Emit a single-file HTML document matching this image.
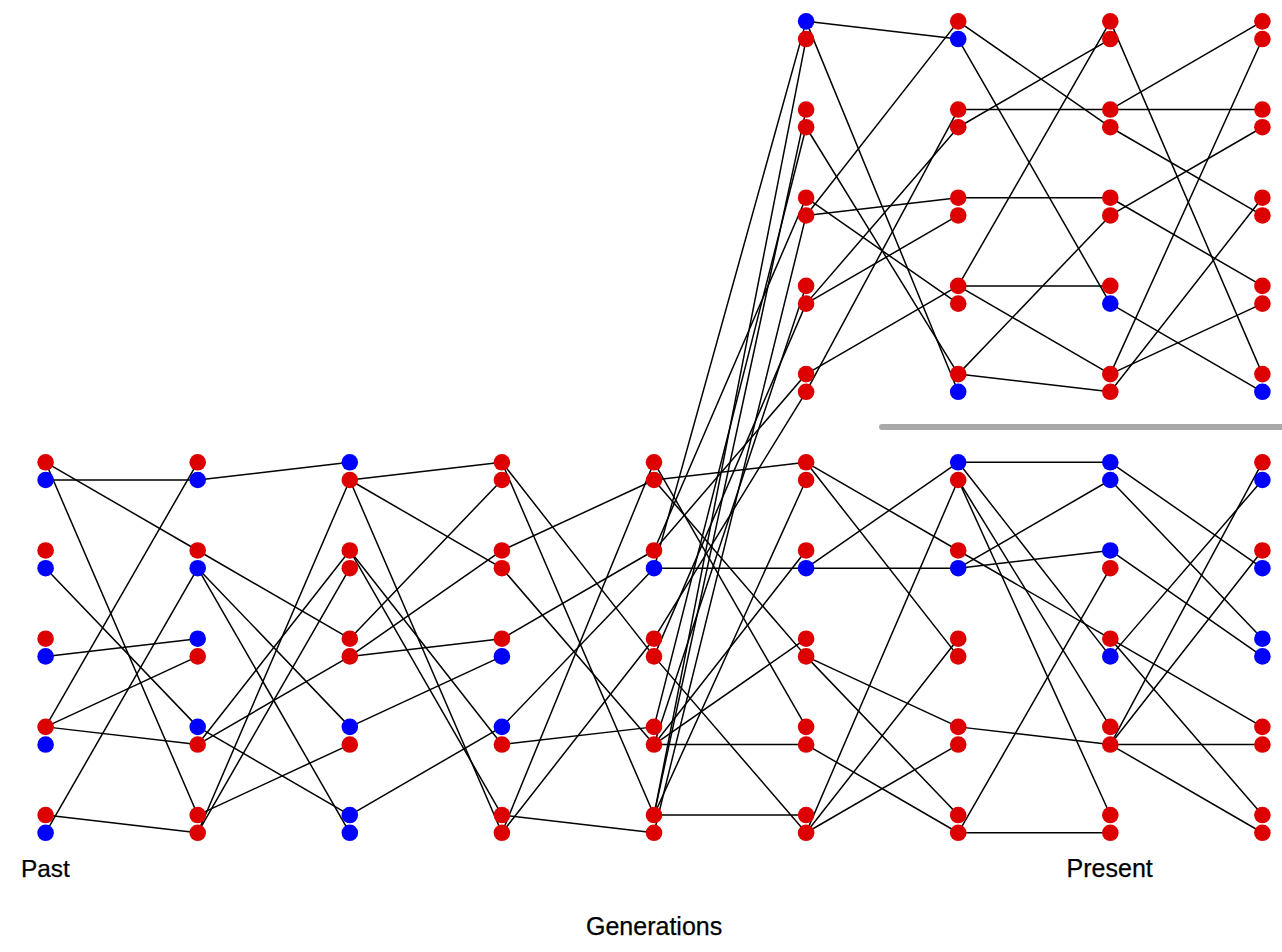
<!DOCTYPE html>
<html><head><meta charset="utf-8"><title>Generations</title>
<style>
html,body{margin:0;padding:0;background:#fff;}
body{width:1282px;height:952px;position:relative;overflow:hidden;font-family:"Liberation Sans",sans-serif;color:#000;}
.t{position:absolute;font-size:25px;line-height:25px;white-space:nowrap;-webkit-text-stroke:0.25px #000;}
</style></head><body>
<svg width="1282" height="952" viewBox="0 0 1282 952" style="position:absolute;left:0;top:0">
<g stroke="#000" stroke-width="1.5" stroke-linecap="round" fill="none">
<line x1="45.60" y1="726.87" x2="197.70" y2="462.30"/>
<line x1="45.60" y1="480.00" x2="197.70" y2="480.00"/>
<line x1="45.60" y1="462.30" x2="197.70" y2="550.49"/>
<line x1="45.60" y1="832.76" x2="197.70" y2="568.19"/>
<line x1="45.60" y1="656.38" x2="197.70" y2="638.68"/>
<line x1="45.60" y1="726.87" x2="197.70" y2="656.38"/>
<line x1="45.60" y1="568.19" x2="197.70" y2="726.87"/>
<line x1="45.60" y1="726.87" x2="197.70" y2="744.57"/>
<line x1="45.60" y1="462.30" x2="197.70" y2="815.06"/>
<line x1="45.60" y1="815.06" x2="197.70" y2="832.76"/>
<line x1="197.70" y1="480.00" x2="349.80" y2="462.30"/>
<line x1="197.70" y1="832.76" x2="349.80" y2="480.00"/>
<line x1="197.70" y1="744.57" x2="349.80" y2="550.49"/>
<line x1="197.70" y1="832.76" x2="349.80" y2="568.19"/>
<line x1="197.70" y1="550.49" x2="349.80" y2="638.68"/>
<line x1="197.70" y1="744.57" x2="349.80" y2="656.38"/>
<line x1="197.70" y1="568.19" x2="349.80" y2="726.87"/>
<line x1="197.70" y1="815.06" x2="349.80" y2="744.57"/>
<line x1="197.70" y1="726.87" x2="349.80" y2="815.06"/>
<line x1="197.70" y1="568.19" x2="349.80" y2="832.76"/>
<line x1="349.80" y1="480.00" x2="501.90" y2="462.30"/>
<line x1="349.80" y1="638.68" x2="501.90" y2="480.00"/>
<line x1="349.80" y1="656.38" x2="501.90" y2="550.49"/>
<line x1="349.80" y1="480.00" x2="501.90" y2="568.19"/>
<line x1="349.80" y1="656.38" x2="501.90" y2="638.68"/>
<line x1="349.80" y1="726.87" x2="501.90" y2="656.38"/>
<line x1="349.80" y1="815.06" x2="501.90" y2="726.87"/>
<line x1="349.80" y1="550.49" x2="501.90" y2="744.57"/>
<line x1="349.80" y1="550.49" x2="501.90" y2="815.06"/>
<line x1="349.80" y1="480.00" x2="501.90" y2="832.76"/>
<line x1="501.90" y1="832.76" x2="654.00" y2="462.30"/>
<line x1="501.90" y1="550.49" x2="654.00" y2="480.00"/>
<line x1="501.90" y1="638.68" x2="654.00" y2="550.49"/>
<line x1="501.90" y1="726.87" x2="654.00" y2="568.19"/>
<line x1="501.90" y1="832.76" x2="654.00" y2="638.68"/>
<line x1="501.90" y1="462.30" x2="654.00" y2="656.38"/>
<line x1="501.90" y1="744.57" x2="654.00" y2="726.87"/>
<line x1="501.90" y1="568.19" x2="654.00" y2="744.57"/>
<line x1="501.90" y1="462.30" x2="654.00" y2="815.06"/>
<line x1="501.90" y1="815.06" x2="654.00" y2="832.76"/>
<line x1="654.00" y1="480.00" x2="806.10" y2="462.30"/>
<line x1="654.00" y1="815.06" x2="806.10" y2="480.00"/>
<line x1="654.00" y1="744.57" x2="806.10" y2="550.49"/>
<line x1="654.00" y1="568.19" x2="806.10" y2="568.19"/>
<line x1="654.00" y1="744.57" x2="806.10" y2="638.68"/>
<line x1="654.00" y1="480.00" x2="806.10" y2="656.38"/>
<line x1="654.00" y1="462.30" x2="806.10" y2="726.87"/>
<line x1="654.00" y1="744.57" x2="806.10" y2="744.57"/>
<line x1="654.00" y1="815.06" x2="806.10" y2="815.06"/>
<line x1="654.00" y1="656.38" x2="806.10" y2="832.76"/>
<line x1="654.00" y1="568.19" x2="806.10" y2="21.35"/>
<line x1="654.00" y1="815.06" x2="806.10" y2="39.05"/>
<line x1="654.00" y1="815.06" x2="806.10" y2="109.54"/>
<line x1="654.00" y1="726.87" x2="806.10" y2="127.24"/>
<line x1="654.00" y1="550.49" x2="806.10" y2="197.73"/>
<line x1="654.00" y1="832.76" x2="806.10" y2="215.43"/>
<line x1="654.00" y1="744.57" x2="806.10" y2="285.92"/>
<line x1="654.00" y1="656.38" x2="806.10" y2="303.62"/>
<line x1="654.00" y1="550.49" x2="806.10" y2="374.11"/>
<line x1="654.00" y1="638.68" x2="806.10" y2="391.81"/>
<line x1="806.10" y1="215.43" x2="958.20" y2="21.35"/>
<line x1="806.10" y1="21.35" x2="958.20" y2="39.05"/>
<line x1="806.10" y1="391.81" x2="958.20" y2="109.54"/>
<line x1="806.10" y1="303.62" x2="958.20" y2="127.24"/>
<line x1="806.10" y1="215.43" x2="958.20" y2="197.73"/>
<line x1="806.10" y1="303.62" x2="958.20" y2="215.43"/>
<line x1="806.10" y1="374.11" x2="958.20" y2="285.92"/>
<line x1="806.10" y1="197.73" x2="958.20" y2="303.62"/>
<line x1="806.10" y1="127.24" x2="958.20" y2="374.11"/>
<line x1="806.10" y1="21.35" x2="958.20" y2="391.81"/>
<line x1="806.10" y1="568.19" x2="958.20" y2="462.30"/>
<line x1="806.10" y1="832.76" x2="958.20" y2="480.00"/>
<line x1="806.10" y1="462.30" x2="958.20" y2="550.49"/>
<line x1="806.10" y1="568.19" x2="958.20" y2="568.19"/>
<line x1="806.10" y1="832.76" x2="958.20" y2="638.68"/>
<line x1="806.10" y1="462.30" x2="958.20" y2="656.38"/>
<line x1="806.10" y1="656.38" x2="958.20" y2="726.87"/>
<line x1="806.10" y1="832.76" x2="958.20" y2="744.57"/>
<line x1="806.10" y1="656.38" x2="958.20" y2="815.06"/>
<line x1="806.10" y1="744.57" x2="958.20" y2="832.76"/>
<line x1="958.20" y1="285.92" x2="1110.30" y2="21.35"/>
<line x1="958.20" y1="127.24" x2="1110.30" y2="39.05"/>
<line x1="958.20" y1="109.54" x2="1110.30" y2="109.54"/>
<line x1="958.20" y1="21.35" x2="1110.30" y2="127.24"/>
<line x1="958.20" y1="197.73" x2="1110.30" y2="197.73"/>
<line x1="958.20" y1="374.11" x2="1110.30" y2="215.43"/>
<line x1="958.20" y1="285.92" x2="1110.30" y2="285.92"/>
<line x1="958.20" y1="39.05" x2="1110.30" y2="303.62"/>
<line x1="958.20" y1="285.92" x2="1110.30" y2="374.11"/>
<line x1="958.20" y1="374.11" x2="1110.30" y2="391.81"/>
<line x1="958.20" y1="462.30" x2="1110.30" y2="462.30"/>
<line x1="958.20" y1="568.19" x2="1110.30" y2="480.00"/>
<line x1="958.20" y1="568.19" x2="1110.30" y2="550.49"/>
<line x1="958.20" y1="832.76" x2="1110.30" y2="568.19"/>
<line x1="958.20" y1="550.49" x2="1110.30" y2="638.68"/>
<line x1="958.20" y1="462.30" x2="1110.30" y2="656.38"/>
<line x1="958.20" y1="480.00" x2="1110.30" y2="726.87"/>
<line x1="958.20" y1="726.87" x2="1110.30" y2="744.57"/>
<line x1="958.20" y1="480.00" x2="1110.30" y2="815.06"/>
<line x1="958.20" y1="832.76" x2="1110.30" y2="832.76"/>
<line x1="1110.30" y1="109.54" x2="1262.40" y2="21.35"/>
<line x1="1110.30" y1="374.11" x2="1262.40" y2="39.05"/>
<line x1="1110.30" y1="109.54" x2="1262.40" y2="109.54"/>
<line x1="1110.30" y1="215.43" x2="1262.40" y2="127.24"/>
<line x1="1110.30" y1="391.81" x2="1262.40" y2="197.73"/>
<line x1="1110.30" y1="127.24" x2="1262.40" y2="215.43"/>
<line x1="1110.30" y1="197.73" x2="1262.40" y2="285.92"/>
<line x1="1110.30" y1="374.11" x2="1262.40" y2="303.62"/>
<line x1="1110.30" y1="21.35" x2="1262.40" y2="374.11"/>
<line x1="1110.30" y1="303.62" x2="1262.40" y2="391.81"/>
<line x1="1110.30" y1="744.57" x2="1262.40" y2="462.30"/>
<line x1="1110.30" y1="656.38" x2="1262.40" y2="480.00"/>
<line x1="1110.30" y1="744.57" x2="1262.40" y2="550.49"/>
<line x1="1110.30" y1="462.30" x2="1262.40" y2="568.19"/>
<line x1="1110.30" y1="480.00" x2="1262.40" y2="638.68"/>
<line x1="1110.30" y1="550.49" x2="1262.40" y2="656.38"/>
<line x1="1110.30" y1="638.68" x2="1262.40" y2="726.87"/>
<line x1="1110.30" y1="744.57" x2="1262.40" y2="744.57"/>
<line x1="1110.30" y1="638.68" x2="1262.40" y2="815.06"/>
<line x1="1110.30" y1="744.57" x2="1262.40" y2="832.76"/>
</g>
<line x1="882" y1="427" x2="1290" y2="427" stroke="#a9a9a9" stroke-width="6" stroke-linecap="round"/>
<circle cx="45.60" cy="462.30" r="8.30" fill="#dc0000"/>
<circle cx="45.60" cy="480.00" r="8.30" fill="#0000ff"/>
<circle cx="45.60" cy="550.49" r="8.30" fill="#dc0000"/>
<circle cx="45.60" cy="568.19" r="8.30" fill="#0000ff"/>
<circle cx="45.60" cy="638.68" r="8.30" fill="#dc0000"/>
<circle cx="45.60" cy="656.38" r="8.30" fill="#0000ff"/>
<circle cx="45.60" cy="726.87" r="8.30" fill="#dc0000"/>
<circle cx="45.60" cy="744.57" r="8.30" fill="#0000ff"/>
<circle cx="45.60" cy="815.06" r="8.30" fill="#dc0000"/>
<circle cx="45.60" cy="832.76" r="8.30" fill="#0000ff"/>
<circle cx="197.70" cy="462.30" r="8.30" fill="#dc0000"/>
<circle cx="197.70" cy="480.00" r="8.30" fill="#0000ff"/>
<circle cx="197.70" cy="550.49" r="8.30" fill="#dc0000"/>
<circle cx="197.70" cy="568.19" r="8.30" fill="#0000ff"/>
<circle cx="197.70" cy="638.68" r="8.30" fill="#0000ff"/>
<circle cx="197.70" cy="656.38" r="8.30" fill="#dc0000"/>
<circle cx="197.70" cy="726.87" r="8.30" fill="#0000ff"/>
<circle cx="197.70" cy="744.57" r="8.30" fill="#dc0000"/>
<circle cx="197.70" cy="815.06" r="8.30" fill="#dc0000"/>
<circle cx="197.70" cy="832.76" r="8.30" fill="#dc0000"/>
<circle cx="349.80" cy="462.30" r="8.30" fill="#0000ff"/>
<circle cx="349.80" cy="480.00" r="8.30" fill="#dc0000"/>
<circle cx="349.80" cy="550.49" r="8.30" fill="#dc0000"/>
<circle cx="349.80" cy="568.19" r="8.30" fill="#dc0000"/>
<circle cx="349.80" cy="638.68" r="8.30" fill="#dc0000"/>
<circle cx="349.80" cy="656.38" r="8.30" fill="#dc0000"/>
<circle cx="349.80" cy="726.87" r="8.30" fill="#0000ff"/>
<circle cx="349.80" cy="744.57" r="8.30" fill="#dc0000"/>
<circle cx="349.80" cy="815.06" r="8.30" fill="#0000ff"/>
<circle cx="349.80" cy="832.76" r="8.30" fill="#0000ff"/>
<circle cx="501.90" cy="462.30" r="8.30" fill="#dc0000"/>
<circle cx="501.90" cy="480.00" r="8.30" fill="#dc0000"/>
<circle cx="501.90" cy="550.49" r="8.30" fill="#dc0000"/>
<circle cx="501.90" cy="568.19" r="8.30" fill="#dc0000"/>
<circle cx="501.90" cy="638.68" r="8.30" fill="#dc0000"/>
<circle cx="501.90" cy="656.38" r="8.30" fill="#0000ff"/>
<circle cx="501.90" cy="726.87" r="8.30" fill="#0000ff"/>
<circle cx="501.90" cy="744.57" r="8.30" fill="#dc0000"/>
<circle cx="501.90" cy="815.06" r="8.30" fill="#dc0000"/>
<circle cx="501.90" cy="832.76" r="8.30" fill="#dc0000"/>
<circle cx="654.00" cy="462.30" r="8.30" fill="#dc0000"/>
<circle cx="654.00" cy="480.00" r="8.30" fill="#dc0000"/>
<circle cx="654.00" cy="550.49" r="8.30" fill="#dc0000"/>
<circle cx="654.00" cy="568.19" r="8.30" fill="#0000ff"/>
<circle cx="654.00" cy="638.68" r="8.30" fill="#dc0000"/>
<circle cx="654.00" cy="656.38" r="8.30" fill="#dc0000"/>
<circle cx="654.00" cy="726.87" r="8.30" fill="#dc0000"/>
<circle cx="654.00" cy="744.57" r="8.30" fill="#dc0000"/>
<circle cx="654.00" cy="815.06" r="8.30" fill="#dc0000"/>
<circle cx="654.00" cy="832.76" r="8.30" fill="#dc0000"/>
<circle cx="806.10" cy="21.35" r="8.30" fill="#0000ff"/>
<circle cx="806.10" cy="39.05" r="8.30" fill="#dc0000"/>
<circle cx="806.10" cy="109.54" r="8.30" fill="#dc0000"/>
<circle cx="806.10" cy="127.24" r="8.30" fill="#dc0000"/>
<circle cx="806.10" cy="197.73" r="8.30" fill="#dc0000"/>
<circle cx="806.10" cy="215.43" r="8.30" fill="#dc0000"/>
<circle cx="806.10" cy="285.92" r="8.30" fill="#dc0000"/>
<circle cx="806.10" cy="303.62" r="8.30" fill="#dc0000"/>
<circle cx="806.10" cy="374.11" r="8.30" fill="#dc0000"/>
<circle cx="806.10" cy="391.81" r="8.30" fill="#dc0000"/>
<circle cx="806.10" cy="462.30" r="8.30" fill="#dc0000"/>
<circle cx="806.10" cy="480.00" r="8.30" fill="#dc0000"/>
<circle cx="806.10" cy="550.49" r="8.30" fill="#dc0000"/>
<circle cx="806.10" cy="568.19" r="8.30" fill="#0000ff"/>
<circle cx="806.10" cy="638.68" r="8.30" fill="#dc0000"/>
<circle cx="806.10" cy="656.38" r="8.30" fill="#dc0000"/>
<circle cx="806.10" cy="726.87" r="8.30" fill="#dc0000"/>
<circle cx="806.10" cy="744.57" r="8.30" fill="#dc0000"/>
<circle cx="806.10" cy="815.06" r="8.30" fill="#dc0000"/>
<circle cx="806.10" cy="832.76" r="8.30" fill="#dc0000"/>
<circle cx="958.20" cy="21.35" r="8.30" fill="#dc0000"/>
<circle cx="958.20" cy="39.05" r="8.30" fill="#0000ff"/>
<circle cx="958.20" cy="109.54" r="8.30" fill="#dc0000"/>
<circle cx="958.20" cy="127.24" r="8.30" fill="#dc0000"/>
<circle cx="958.20" cy="197.73" r="8.30" fill="#dc0000"/>
<circle cx="958.20" cy="215.43" r="8.30" fill="#dc0000"/>
<circle cx="958.20" cy="285.92" r="8.30" fill="#dc0000"/>
<circle cx="958.20" cy="303.62" r="8.30" fill="#dc0000"/>
<circle cx="958.20" cy="374.11" r="8.30" fill="#dc0000"/>
<circle cx="958.20" cy="391.81" r="8.30" fill="#0000ff"/>
<circle cx="958.20" cy="462.30" r="8.30" fill="#0000ff"/>
<circle cx="958.20" cy="480.00" r="8.30" fill="#dc0000"/>
<circle cx="958.20" cy="550.49" r="8.30" fill="#dc0000"/>
<circle cx="958.20" cy="568.19" r="8.30" fill="#0000ff"/>
<circle cx="958.20" cy="638.68" r="8.30" fill="#dc0000"/>
<circle cx="958.20" cy="656.38" r="8.30" fill="#dc0000"/>
<circle cx="958.20" cy="726.87" r="8.30" fill="#dc0000"/>
<circle cx="958.20" cy="744.57" r="8.30" fill="#dc0000"/>
<circle cx="958.20" cy="815.06" r="8.30" fill="#dc0000"/>
<circle cx="958.20" cy="832.76" r="8.30" fill="#dc0000"/>
<circle cx="1110.30" cy="21.35" r="8.30" fill="#dc0000"/>
<circle cx="1110.30" cy="39.05" r="8.30" fill="#dc0000"/>
<circle cx="1110.30" cy="109.54" r="8.30" fill="#dc0000"/>
<circle cx="1110.30" cy="127.24" r="8.30" fill="#dc0000"/>
<circle cx="1110.30" cy="197.73" r="8.30" fill="#dc0000"/>
<circle cx="1110.30" cy="215.43" r="8.30" fill="#dc0000"/>
<circle cx="1110.30" cy="285.92" r="8.30" fill="#dc0000"/>
<circle cx="1110.30" cy="303.62" r="8.30" fill="#0000ff"/>
<circle cx="1110.30" cy="374.11" r="8.30" fill="#dc0000"/>
<circle cx="1110.30" cy="391.81" r="8.30" fill="#dc0000"/>
<circle cx="1110.30" cy="462.30" r="8.30" fill="#0000ff"/>
<circle cx="1110.30" cy="480.00" r="8.30" fill="#0000ff"/>
<circle cx="1110.30" cy="550.49" r="8.30" fill="#0000ff"/>
<circle cx="1110.30" cy="568.19" r="8.30" fill="#dc0000"/>
<circle cx="1110.30" cy="638.68" r="8.30" fill="#dc0000"/>
<circle cx="1110.30" cy="656.38" r="8.30" fill="#0000ff"/>
<circle cx="1110.30" cy="726.87" r="8.30" fill="#dc0000"/>
<circle cx="1110.30" cy="744.57" r="8.30" fill="#dc0000"/>
<circle cx="1110.30" cy="815.06" r="8.30" fill="#dc0000"/>
<circle cx="1110.30" cy="832.76" r="8.30" fill="#dc0000"/>
<circle cx="1262.40" cy="21.35" r="8.30" fill="#dc0000"/>
<circle cx="1262.40" cy="39.05" r="8.30" fill="#dc0000"/>
<circle cx="1262.40" cy="109.54" r="8.30" fill="#dc0000"/>
<circle cx="1262.40" cy="127.24" r="8.30" fill="#dc0000"/>
<circle cx="1262.40" cy="197.73" r="8.30" fill="#dc0000"/>
<circle cx="1262.40" cy="215.43" r="8.30" fill="#dc0000"/>
<circle cx="1262.40" cy="285.92" r="8.30" fill="#dc0000"/>
<circle cx="1262.40" cy="303.62" r="8.30" fill="#dc0000"/>
<circle cx="1262.40" cy="374.11" r="8.30" fill="#dc0000"/>
<circle cx="1262.40" cy="391.81" r="8.30" fill="#0000ff"/>
<circle cx="1262.40" cy="462.30" r="8.30" fill="#dc0000"/>
<circle cx="1262.40" cy="480.00" r="8.30" fill="#0000ff"/>
<circle cx="1262.40" cy="550.49" r="8.30" fill="#dc0000"/>
<circle cx="1262.40" cy="568.19" r="8.30" fill="#0000ff"/>
<circle cx="1262.40" cy="638.68" r="8.30" fill="#0000ff"/>
<circle cx="1262.40" cy="656.38" r="8.30" fill="#0000ff"/>
<circle cx="1262.40" cy="726.87" r="8.30" fill="#dc0000"/>
<circle cx="1262.40" cy="744.57" r="8.30" fill="#dc0000"/>
<circle cx="1262.40" cy="815.06" r="8.30" fill="#dc0000"/>
<circle cx="1262.40" cy="832.76" r="8.30" fill="#dc0000"/>
</svg>
<div class="t" style="left:21px;top:856.4px;font-size:24.4px;">Past</div>
<div class="t" style="left:1066.6px;top:856.2px;">Present</div>
<div class="t" style="left:586px;top:914.3px;">Generations</div>
</body></html>
